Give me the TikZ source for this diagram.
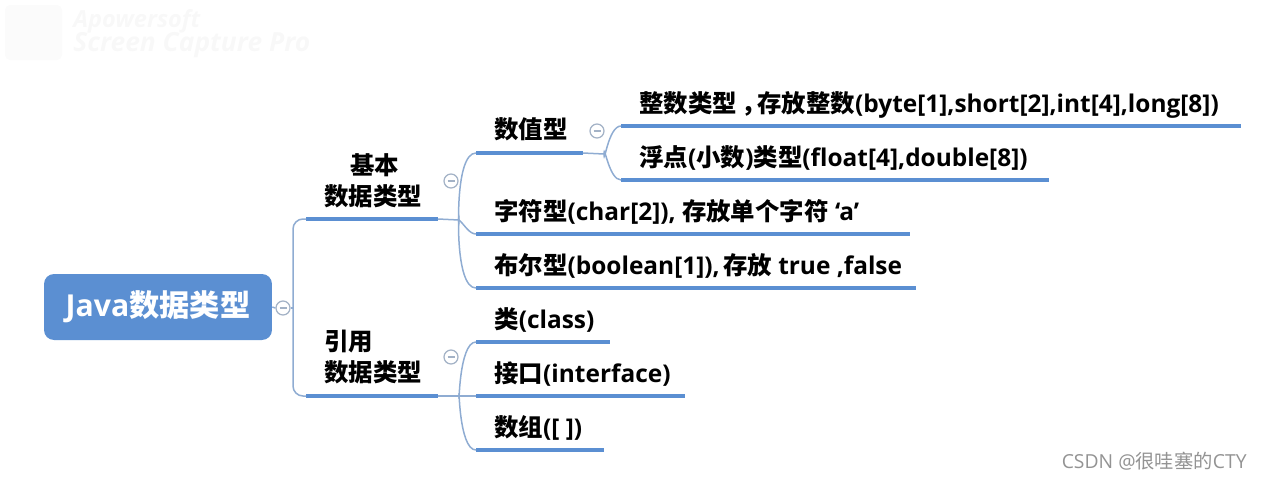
\documentclass[tikz,border=0pt]{standalone}
\usepackage{fontspec}
\setmainfont{Open Sans}
\newfontfamily\cjk{Noto Sans CJK SC}
\definecolor{barblue}{HTML}{5B8FD2}
\definecolor{linkblue}{HTML}{8FACD2}
\definecolor{foldgray}{HTML}{A3B2C6}
\definecolor{markgray}{HTML}{F8F8F8}
\tikzset{
	topic/.style={anchor=base west,inner sep=0pt,font=\fontsize{13.9}{15}\selectfont\bfseries,text=black},
	bar/.style={barblue,line width=.09cm},
	link/.style={linkblue,line width=.03cm},
	fold/.style={circle,draw=foldgray,line width=.025cm,fill=white,minimum size=.28cm,inner sep=0pt,
		path picture={\draw[foldgray,line width=.025cm] ([xshift=-.07cm]path picture bounding box.center)--([xshift=.07cm]path picture bounding box.center);}},
}
\begin{document}
\begin{tikzpicture}[x=.02cm,y=-.02cm]
	\useasboundingbox (0,0) rectangle (1262,481);
	%Dấu mờ
	\fill[rounded corners=.1cm,fill=markgray!50] (5,5) rectangle (62,60);
	\node[anchor=base west,inner sep=0pt,text=markgray,font=\fontsize{13.4}{15}\selectfont\bfseries\itshape] (markA) at (73,27) {Apowersoft};
	\node[anchor=base west,inner sep=0pt,text=markgray,font=\fontsize{15}{17}\selectfont\bfseries\itshape] (markB) at (73,51) {Screen Capture Pro};
	%Gốc
	\node[rectangle,rounded corners=.2cm,fill=barblue,text=white,minimum width=4.56cm,minimum height=1.32cm,inner sep=0pt,font=\fontsize{17.2}{19}\selectfont\bfseries] (root) at (158,307) {Java{\cjk 数据类型}};
	%Thanh ngang
	\foreach \n/\a/\b/\y in {jb/306/438/219,yy/306/438/396,sz/476/583/153,zf/476/910/234,be/476/916/288,
		lei/476/610/342,jk/476/685/396,sg/476/604/450,zs/621/1241/126,fd/621/1049/180}{
		\coordinate (\n L) at (\a,\y);
		\coordinate (\n R) at (\b,\y);
		\draw[bar] (\n L)--(\n R);
	}
	%Điểm rẽ nhánh
	\coordinate (hubRoot) at (293,308);
	\coordinate (hubJb) at (459,220);
	\coordinate (hubYy) at (459,396);
	\coordinate (hubSz) at (604,154);
	%Nút gập
	\node[fold] (fRoot) at (283,308) {};
	\node[fold] (fJb) at (451,181) {};
	\node[fold] (fYy) at (451,357) {};
	\node[fold] (fSz) at (597,131) {};
	%Nhánh
	\draw[link] (root.east)--(fRoot.west);
	\draw[link] (fRoot.east)--(hubRoot);
	\draw[link,rounded corners=.2cm] (hubRoot) |- (jbL);
	\draw[link,rounded corners=.2cm] (hubRoot) |- (yyL);
	\draw[link] (jbR)--(hubJb);
	\draw[link] (hubJb) to[out=-90,in=180,looseness=.8] (szL);
	\draw[link] (hubJb) to[out=-40,in=180,looseness=.8] (zfL);
	\draw[link] (hubJb) to[out=90,in=180,looseness=.8] (beL);
	\draw[link] (yyR)--(jkL);
	\draw[link] (hubYy) to[out=-90,in=180,looseness=.8] (leiL);
	\draw[link] (hubYy) to[out=90,in=180,looseness=.8] (sgL);
	\draw[link] (szR)--(hubSz);
	\draw[link] (hubSz) to[out=-90,in=180] (zsL);
	\draw[link] (hubSz) to[out=90,in=180] (fdL);
	%Chữ
	\node[topic] (tJb) at (350,174) {\cjk 基本};
	\node[topic] (tJbB) at (324,205) {\cjk 数据类型};
	\node[topic] (tYy) at (324,350) {\cjk 引用};
	\node[topic] (tYyB) at (324,381) {\cjk 数据类型};
	\node[topic] (tSz) at (494,138) {\cjk 数值型};
	\node[topic] (tZs) at (639,112) {{\cjk 整数类型\hspace{.08cm}，\hspace{-.16cm}存放整数}(byte[1],short[2],int[4],long[8])};
	\node[topic] (tFd) at (639,166) {{\cjk 浮点}({\cjk 小数}){\cjk 类型}(float[4],double[8])};
	\node[topic] (tZf) at (494,220) {{\cjk 字符型}(char[2]), {\cjk 存放单个字符}\ ‘a’};
	\node[topic] (tBe) at (494,274) {{\cjk 布尔型}(boolean[1]),\hspace{-.06cm} {\cjk 存放} true ,false};
	\node[topic] (tLei) at (494,328) {{\cjk 类}(class)};
	\node[topic] (tJk) at (494,382) {{\cjk 接口}(interface)};
	\node[topic] (tSg) at (494,436) {{\cjk 数组}([ ])};
	%Chữ góc
	\node[anchor=base east,inner sep=0pt,text=gray!85,font=\fontsize{11}{13}\selectfont] (csdn) at (1247,468) {CSDN @{\cjk 很哇塞的}CTY};
\end{tikzpicture}
\end{document}
